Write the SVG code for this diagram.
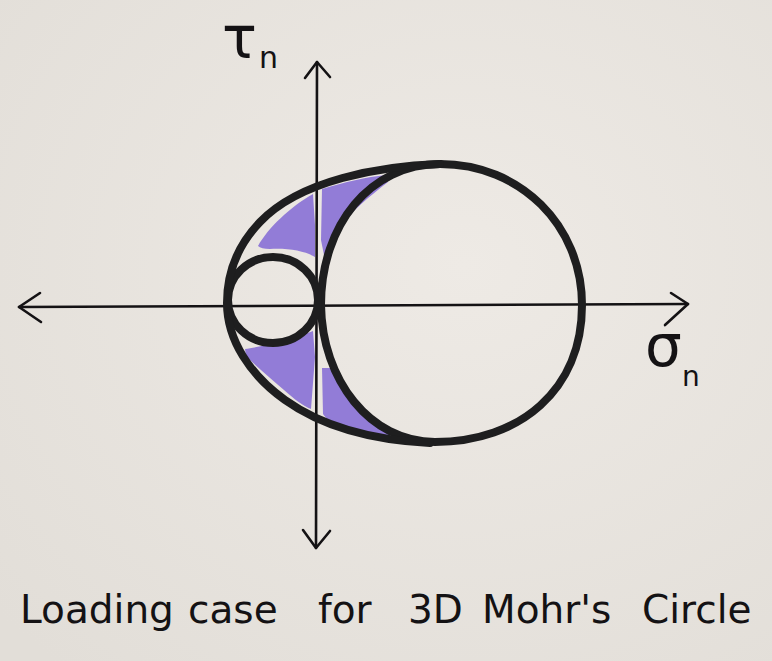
<svg xmlns="http://www.w3.org/2000/svg" width="772" height="661" viewBox="0 0 772 661">
<defs>
<radialGradient id="paper" cx="0.6" cy="0.4" r="0.8">
<stop offset="0" stop-color="#eeeae5"/>
<stop offset="1" stop-color="#e2ded8"/>
</radialGradient>
<style>
.axis{fill:none;stroke:#141214;stroke-width:2.6;stroke-linecap:round;stroke-linejoin:round}
.circ{fill:none;stroke:#1e1e1f;stroke-width:8;stroke-linecap:round;stroke-linejoin:round}
.fillp{fill:#8d76d6;stroke:none;opacity:0.95}
.lbl{font-family:"DejaVu Sans",sans-serif;fill:#141214}
</style>
</defs>
<rect width="772" height="661" fill="url(#paper)"/>
<g id="shading">
<path class="fillp" d="M258,246 C268,228 290,207 313,194 L315,225 L315,257 C305,251 288,248 270,249 C264,249 260,248 258,246 Z"/>
<path class="fillp" d="M322,189 C345,182 366,177 386,175 L388,182 C370,196 350,212 338,230 C332,240 328,250 325,260 L321,240 Z"/>
<path class="fillp" d="M245,349 C260,347 290,340 313,331 L315,357 L311,409 C303,406 294,399 284,390 C270,378 256,366 246,356 Z"/>
<path class="fillp" d="M322,368 L334,368 C342,384 352,398 366,410 C375,420 384,428 391,432 L389,439 C372,437 355,433 340,427 C332,423 326,419 323,414 Z"/>
</g>
<g id="axes">
<path class="axis" d="M19,307 L688,304"/>
<path class="axis" d="M40,293 L19,307 L41,322"/>
<path class="axis" d="M671,293 L688,304 L665,325"/>
<path class="axis" d="M317,62 L316,548"/>
<path class="axis" d="M305,78 L317,62 L330,77"/>
<path class="axis" d="M303,530 L316,548 L330,531"/>
</g>
<g id="large-circle">
<path class="circ" d="M440,164 C520,164 582,225 582,305 C582,390 520,442 435,442 C370,442 322,380 321,305 C321,225 370,164 440,164 Z"/>
</g>
<g id="small-circle">
<ellipse class="circ" cx="273" cy="300" rx="45" ry="43" stroke-width="7"/>
</g>
<g id="outer-circle">
<path class="circ" d="M440,164 C380,166 300,180 260,222 C235,248 227,275 227,303 C227,340 250,375 285,400 C320,425 370,440 430,443"/>
</g>
<g id="labels">
<text class="lbl" x="222" y="58" font-size="58">τ<tspan x="259" y="68" font-size="30">n</tspan></text>
<text class="lbl" x="645" y="366" font-size="58">σ<tspan x="682" y="386" font-size="28">n</tspan></text>
<text class="lbl" y="623" font-size="39"><tspan x="20">Loading</tspan> <tspan x="188">case</tspan> <tspan x="318">for</tspan> <tspan x="408">3D</tspan> <tspan x="482">Mohr's</tspan> <tspan x="642">Circle</tspan></text>
</g>
</svg>
